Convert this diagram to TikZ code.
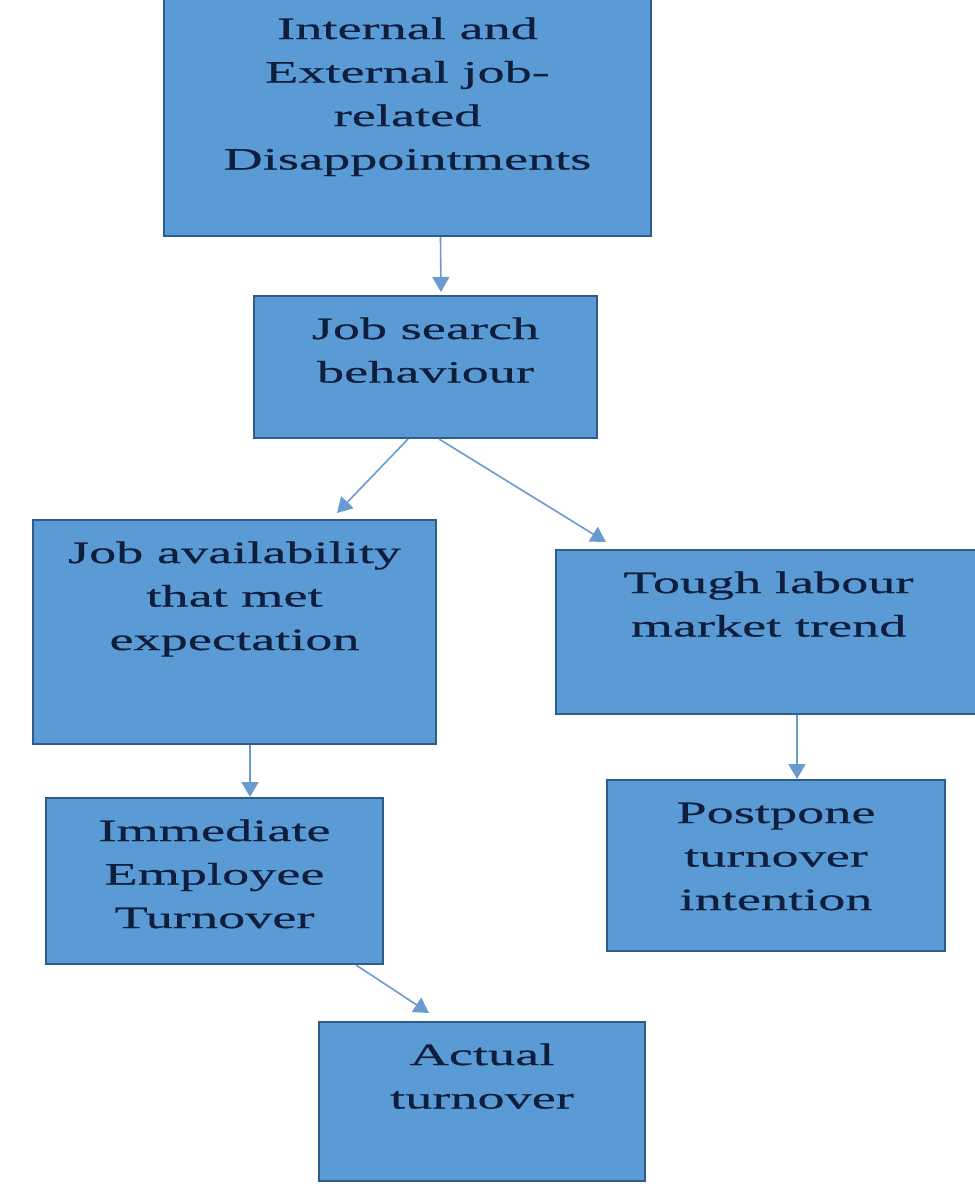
\documentclass[tikz,border=0pt]{standalone}
\usepackage{fontspec}
\setmainfont{Liberation Serif}[FakeStretch=1.75, FakeBold=0.5]
\usepackage{tikz}
\usetikzlibrary{arrows.meta}
\definecolor{boxfill}{HTML}{5B9BD5}
\definecolor{boxedge}{HTML}{2F5D8A}
\definecolor{linkblue}{HTML}{6A9BD0}
\definecolor{inkblue}{HTML}{0F1E3C}
\newcommand{\boxtext}[3]{\parbox[t][#2][t]{#1}{\centering\rule{0pt}{43pt}#3}}

\begin{document}
\begin{tikzpicture}[x=1pt, y=-1pt,
  font=\fontsize{31}{43.5}\selectfont,
  box/.style={draw=boxedge, fill=boxfill, line width=2pt, inner sep=0pt,
    anchor=north west, text=inkblue},
  link/.style={draw=linkblue, line width=1.6pt,
    -{Triangle[width=17pt, length=15pt]}}]
  \useasboundingbox[fill=white] (0,0) rectangle (975,1184);

  % boxes
  \node[box] (dis) at (163,-5) {\boxtext{487pt}{240pt}{Internal and\\External job-\\related\\Disappointments}};
  \node[box] (search) at (253,295) {\boxtext{343pt}{142pt}{Job search\\behaviour}};
  \node[box] (avail) at (32,519) {\boxtext{403pt}{224pt}{Job availability\\that met\\expectation}};
  \node[box] (tough) at (555,549) {\boxtext{425pt}{164pt}{Tough labour\\market trend}};
  \node[box] (immed) at (45,797) {\boxtext{337pt}{166pt}{Immediate\\Employee\\Turnover}};
  \node[box] (postpone) at (606,779) {\boxtext{338pt}{171pt}{Postpone\\turnover\\intention}};
  \node[box] (actual) at (318,1021) {\boxtext{326pt}{159pt}{Actual\\turnover}};

  % arrows
  \draw[link] ([xshift=33pt]dis.south) -- ([xshift=15.5pt, yshift=3pt]search.north);
  \draw[link] ([xshift=-17.5pt]search.south) -- ([xshift=102.5pt, yshift=6pt]avail.north);
  \draw[link] ([xshift=13.5pt]search.south) -- ([xshift=51pt, yshift=7pt]tough.north west);
  \draw[link] ([xshift=15.5pt]avail.south) -- ([xshift=35.5pt]immed.north);
  \draw[link] ([xshift=28.5pt]tough.south) -- ([xshift=21pt]postpone.north);
  \draw[link] ([xshift=-28pt]immed.south east) -- ([xshift=111pt, yshift=8pt]actual.north west);
\end{tikzpicture}
\end{document}
